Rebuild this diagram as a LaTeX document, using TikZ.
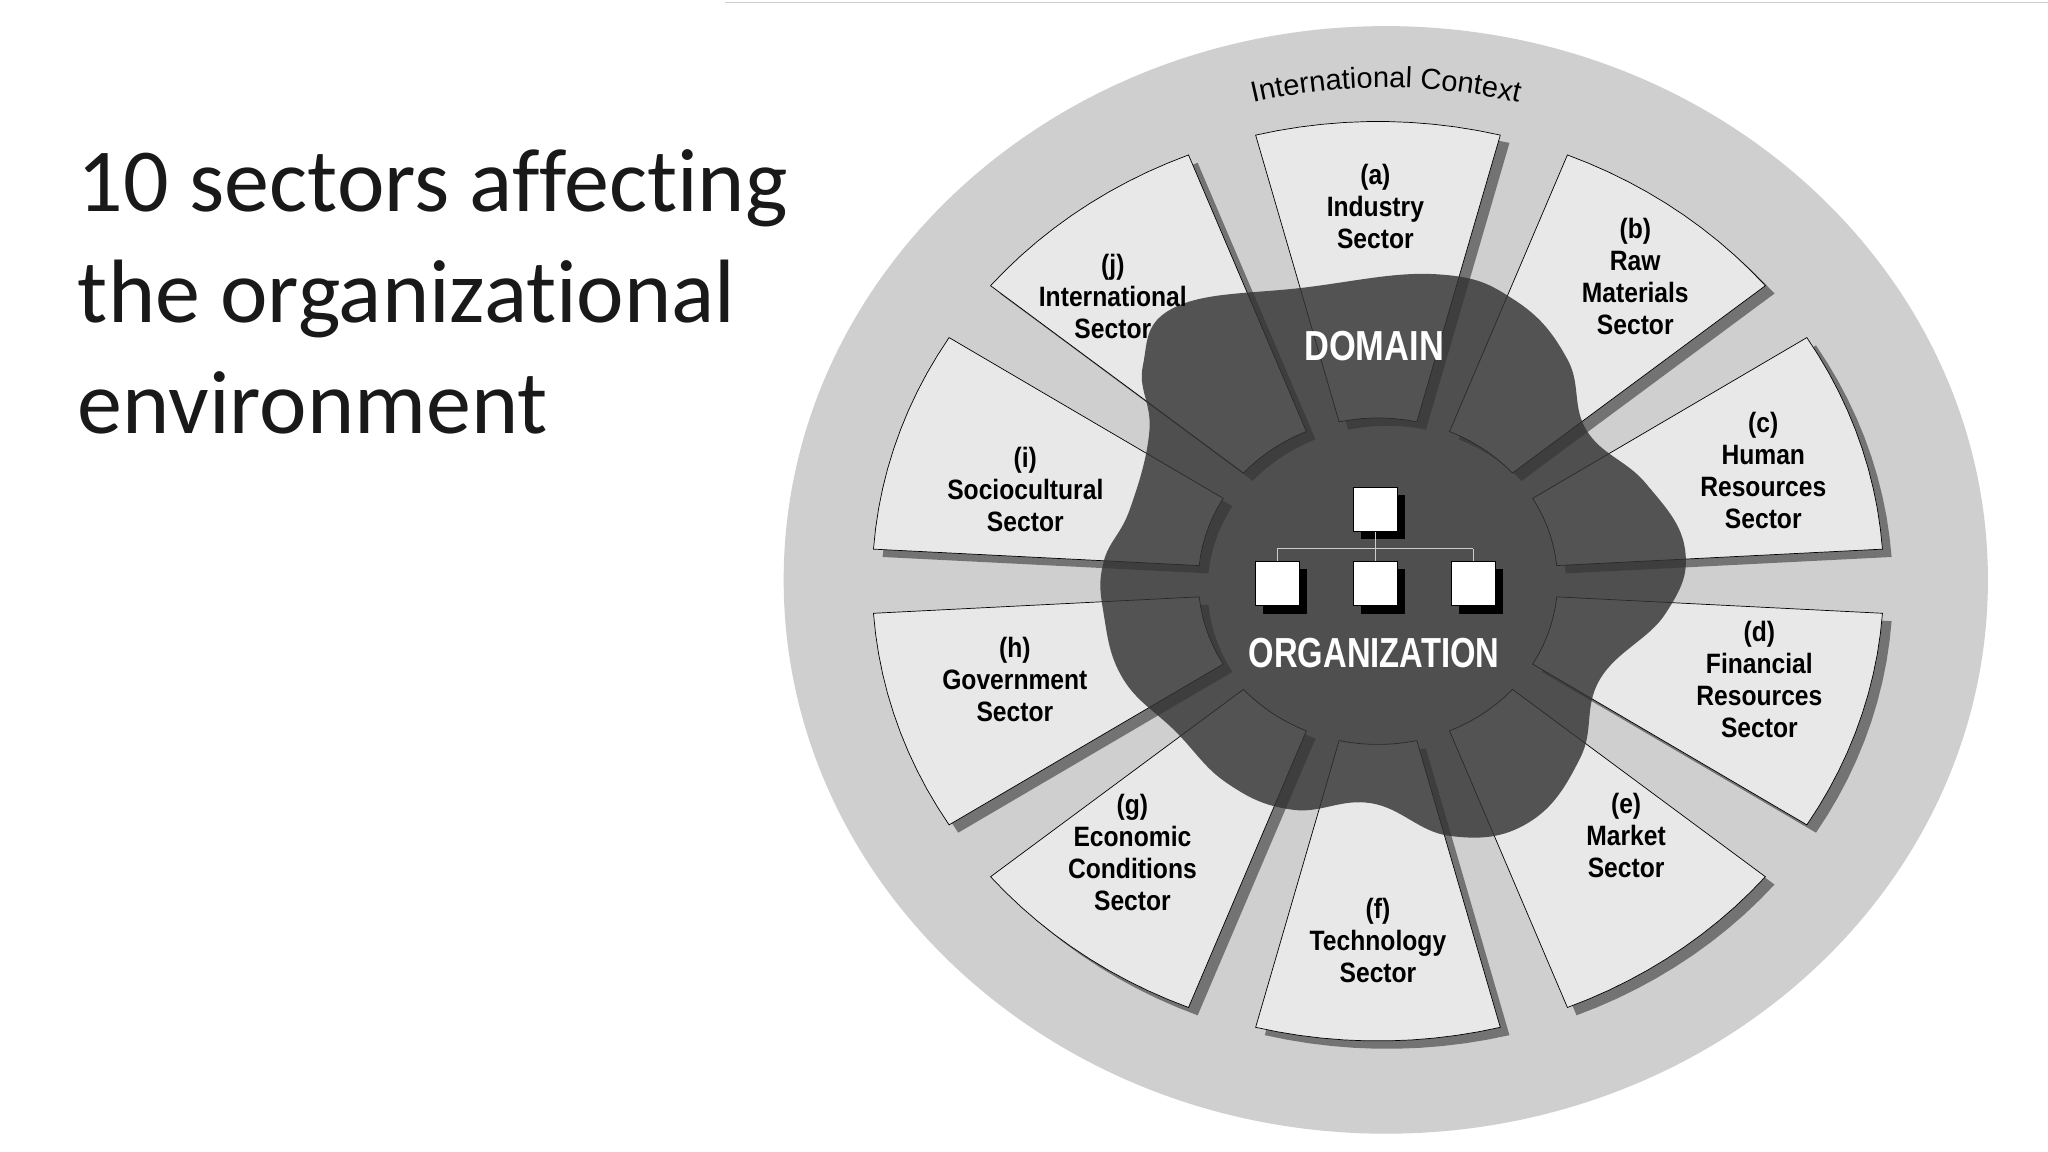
\documentclass[tikz,border=0pt]{standalone}
\usepackage{fontspec}
\setmainfont{Carlito}[Ligatures=NoCommon]
\newfontfamily\lab{Liberation Sans}
\usetikzlibrary{decorations.text}
\begin{document}
\begin{tikzpicture}[x=1.306pt,y=1.306pt,
  lbl/.style={font=\lab\bfseries\fontsize{28}{32}\selectfont,align=center,xscale=0.88,text=black},
  obox/.style={draw=black,fill=white,line width=0.8pt,minimum size=44pt,inner sep=0pt}]
\useasboundingbox (0,0) rectangle (1568,882);
\fill[white] (0,0) rectangle (1568,882);
\draw[gray!40,line width=1.5pt] (555,880) -- (1568,880);
\node[anchor=north west,align=left,font=\fontsize{90}{111}\selectfont,text=black!90] (title) at (57,770) {10 sectors affecting\\the organizational\\environment};
\fill[black!19] (1061,438) ellipse[x radius=461,y radius=424] coordinate (big);
\def\cx{1055}\def\cy{437}
\foreach \t in {90,54,18,-18,-54,-90,-126,-162,162,126}{
 \fill[black!55,shift={(7,-6)}] plot[domain=\t-14:\t+14,samples=12] ({\cx+1.1*352*cos(\x)},{\cy+352*sin(\x)}) -- plot[domain=\t+12.5:\t-12.5,samples=8] ({\cx+1.1*125*cos(\x)},{\cy+125*sin(\x)}) -- cycle;
 \draw[fill=black!9,line width=0.7pt] plot[domain=\t-14:\t+14,samples=12] ({\cx+1.1*352*cos(\x)},{\cy+352*sin(\x)}) -- plot[domain=\t+12.5:\t-12.5,samples=8] ({\cx+1.1*125*cos(\x)},{\cy+125*sin(\x)}) -- cycle;
}
\fill[black!80,fill opacity=0.82] plot[smooth cycle,tension=0.7] coordinates {(900,647)(1000,662)(1100,672)(1160,652)(1200,607)(1215,552)(1260,512)(1290,462)(1275,412)(1225,362)(1210,302)(1170,252)(1110,242)(1050,267)(990,262)(940,282)(900,322)(860,362)(845,412)(845,452)(865,492)(880,552)(875,602)};
\node[lbl] (a) at (1053,724) {(a)\\Industry\\Sector};
\node[lbl] (b) at (1252,670) {(b)\\Raw\\Materials\\Sector};
\node[lbl] (c) at (1350,522) {(c)\\Human\\Resources\\Sector};
\node[lbl] (d) at (1347,362) {(d)\\Financial\\Resources\\Sector};
\node[lbl] (e) at (1245,242) {(e)\\Market\\Sector};
\node[lbl] (f) at (1055,162) {(f)\\Technology\\Sector};
\node[lbl] (g) at (867,229) {(g)\\Economic\\Conditions\\Sector};
\node[lbl] (h) at (777,362) {(h)\\Government\\Sector};
\node[lbl] (i) at (785,507) {(i)\\Sociocultural\\Sector};
\node[lbl] (j) at (852,655) {(j)\\International\\Sector};
\node[font=\lab\bfseries\fontsize{42}{44}\selectfont,text=white,xscale=0.82] (dom) at (1052,617) {DOMAIN};
\node[font=\lab\bfseries\fontsize{42}{44}\selectfont,text=white,xscale=0.78] (org) at (1052,382) {ORGANIZATION};
\foreach \x/\y in {1053/492,978/435,1053/435,1128/435}{\fill[black] (\x-11,\y-23) rectangle (\x+23,\y+11);}
\draw[white!80!black,line width=0.8pt] (1053,492) -- (1053,462) (978,462) -- (1128,462) (978,462)--(978,435) (1128,462)--(1128,435) (1053,462)--(1053,435);
\node[obox] (o1) at (1053,492) {};
\node[obox] (o2) at (978,435) {};
\node[obox] (o3) at (1053,435) {};
\node[obox] (o4) at (1128,435) {};
\path[decorate,decoration={text along path,text align=center,text={|\lab\fontsize{29}{31}\selectfont|International Context}}] ({1061+412*cos(116)},{437+378*sin(116)}) arc[start angle=116,end angle=64,x radius=412,y radius=378];
\end{tikzpicture}
\end{document}
